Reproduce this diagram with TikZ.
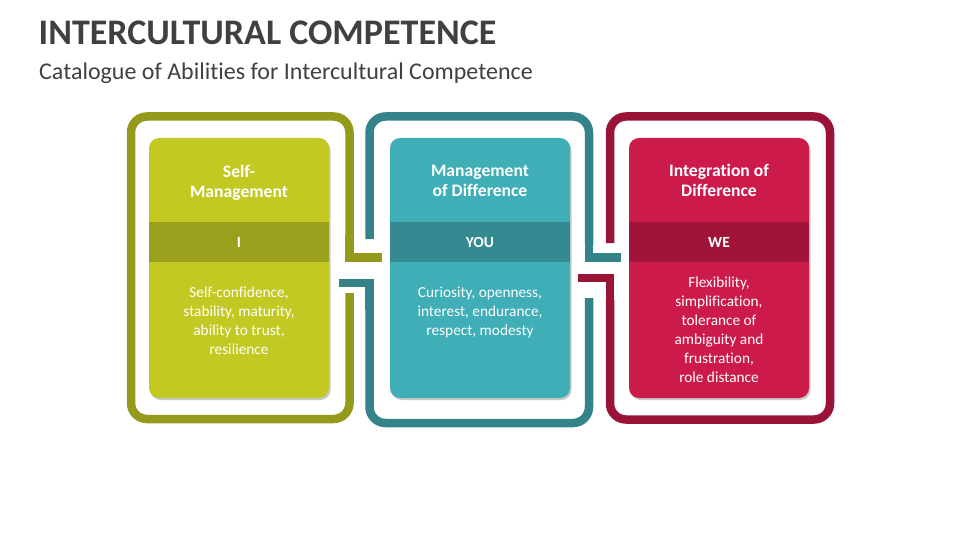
\documentclass[tikz,border=0pt]{standalone}
\usepackage{fontspec}
\setmainfont{Carlito}[Ligatures=NoCommon]
\usetikzlibrary{shadows}
\definecolor{olCard}{HTML}{C2C923}
\definecolor{olBand}{HTML}{9BA01C}
\definecolor{olFrame}{HTML}{969A1A}
\definecolor{tlCard}{HTML}{40AEB7}
\definecolor{tlBand}{HTML}{348A90}
\definecolor{tlFrame}{HTML}{338389}
\definecolor{crCard}{HTML}{CC1A4B}
\definecolor{crBand}{HTML}{A1143A}
\definecolor{crFrame}{HTML}{9B1438}
\definecolor{titlegray}{HTML}{404040}
\begin{document}
\begin{tikzpicture}[x=1pt,y=-1pt,
 frame/.style={line width=8.5pt, rounded corners=16pt},
 stub/.style={line width=8.5pt, sharp corners, line join=miter},
 card/.style={rounded corners=10pt, minimum width=180pt, minimum height=260pt, inner sep=0pt,
   drop shadow={shadow xshift=1.5pt, shadow yshift=-2pt, opacity=0.35, fill=black!60}},
 band/.style={minimum width=180pt, minimum height=40pt, inner sep=0pt},
 ctitle/.style={text=white, font=\bfseries\fontsize{17.6}{20}\selectfont, align=center, inner sep=0pt, anchor=base},
 blabel/.style={text=white, font=\bfseries\fontsize{15.5}{19}\selectfont, inner sep=0pt, anchor=base},
 body/.style={text=white, font=\fontsize{15.3}{19}\selectfont, align=center, inner sep=0pt, anchor=base},
]
\useasboundingbox (0,0) rectangle (960,540);
\fill[white] (0,0) rectangle (960,540);

% titles
\node[anchor=base west, inner sep=0pt, text=titlegray, font=\bfseries\fontsize{36}{40}\selectfont] (title) at (38.5,45) {INTERCULTURAL COMPETENCE};
\node[anchor=base west, inner sep=0pt, text=titlegray, font=\fontsize{24}{28}\selectfont] (subtitle) at (39,80) {Catalogue of Abilities for Intercultural Competence};

% frames
\draw[frame, olFrame] (349.5,293) -- (349.5,419) -- (131,419) -- (131,116.5) -- (349.5,116.5) -- (349.5,245);
\draw[stub, olFrame] (349.5,235) -- (349.5,257.5) -- (382,257.5);

\draw[frame, tlFrame] (369.5,239) -- (369.5,116.5) -- (589,116.5) -- (589,245);
\draw[stub, tlFrame] (589,235) -- (589,257.5) -- (621,257.5);
\draw[frame, tlFrame] (589,298) -- (589,423) -- (369.5,423) -- (369.5,300);
\draw[stub, tlFrame] (339,283) -- (369.5,283) -- (369.5,310);

\draw[frame, crFrame] (610,243) -- (610,116.5) -- (830,116.5) -- (830,419.5) -- (610,419.5) -- (610,300);
\draw[stub, crFrame] (578,278) -- (610,278) -- (610,310);

% cards
\node[card, fill=olCard] (c1) at (239,268) {};
\node[card, fill=tlCard] (c2) at (480,268) {};
\node[card, fill=crCard] (c3) at (719,268) {};

\node[band, fill=olBand] (b1) at (239,242) {};
\node[band, fill=tlBand] (b2) at (480,242) {};
\node[band, fill=crBand] (b3) at (719,242) {};

% card titles (base = baseline of last line)
\node[ctitle] (h1) at (239,197) {Self-\\Management};
\node[ctitle] (h2) at (480,196.5) {Management\\of Difference};
\node[ctitle] (h3) at (719,196.5) {Integration of\\Difference};

% band labels
\node[blabel] (l1) at (239,247) {I};
\node[blabel] (l2) at (480,247) {YOU};
\node[blabel] (l3) at (719,247) {WE};

% bodies (base = baseline of last line)
\node[body] (d1) at (239,354) {Self-confidence,\\stability, maturity,\\ability to trust,\\resilience};
\node[body] (d2) at (480,335) {Curiosity, openness,\\interest, endurance,\\respect, modesty};
\node[body] (d3) at (719,382) {Flexibility,\\simplification,\\tolerance of\\ambiguity and\\frustration,\\role distance};
\end{tikzpicture}
\end{document}
